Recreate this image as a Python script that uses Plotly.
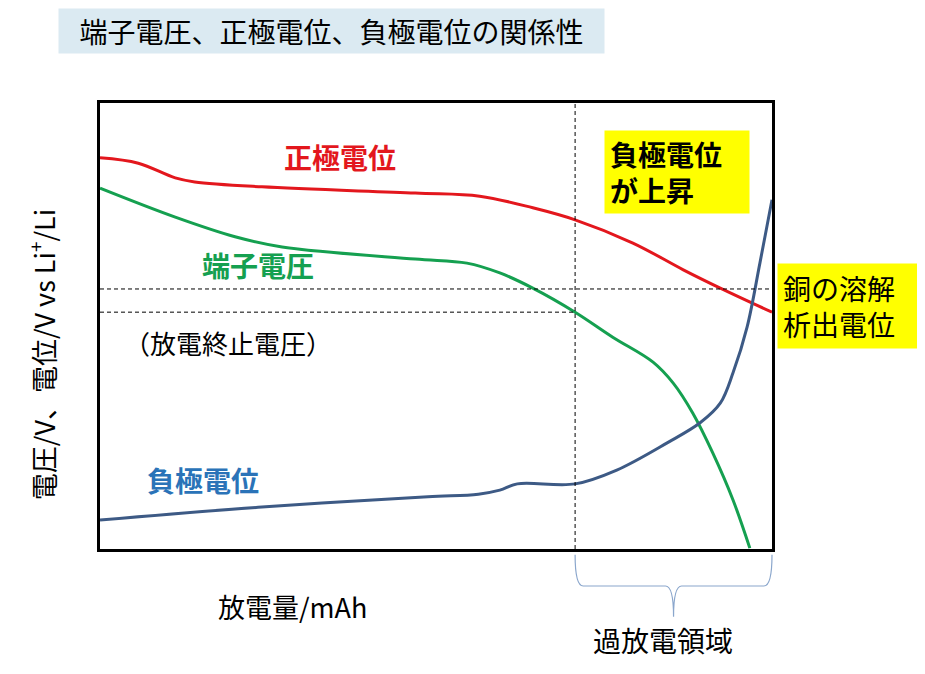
import plotly.graph_objects as go

# 放電量 (相対値 0-100) と電位 (相対値 0-100) : 図から読み取り
pos_x = [0, 5.7, 11.2, 14.1, 24.1, 46.9, 56.5, 64.4, 70.7, 79.3, 86.8, 92.3, 100]
pos_y = [87.7, 86.5, 83.2, 82.3, 81.2, 79.8, 79.1, 76.5, 73.8, 68.6, 62.6, 58.5, 53.1]

term_x = [0, 11.2, 20.1, 27.1, 46.9, 54.6, 59.5, 64.4, 70.7, 76.3, 82.3, 85.3, 88.2, 91.2, 94.2, 96.7]
term_y = [80.9, 74.4, 70.0, 67.7, 65.0, 64.1, 61.9, 58.5, 53.1, 47.5, 41.9, 37.2, 30.5, 21.5, 11.0, 0.2]

neg_x = [0, 24.1, 48.8, 56.3, 59.5, 62.1, 70.7, 76.9, 84.4, 89.3, 92.3, 94.2, 96.3, 98.2, 100]
neg_y = [6.5, 9.4, 11.7, 12.3, 13.2, 14.6, 14.6, 17.7, 23.8, 28.3, 32.7, 39.5, 49.8, 64.1, 78.3]

cutoff_v = 53.1      # 放電終止電圧
cu_v = 58.3          # 銅の溶解析出電位
overdis_x = 70.7     # 過放電の開始点
x_max = 100
y_max = 100

RED = '#e3171d'
GREEN = '#15a050'
BLUE = '#3d5a85'
LBLUE = '#2a73b8'
FONT = 'Noto Sans CJK JP'
DASH = dict(color='black', width=1, dash='4px,3px')

fig = go.Figure()
fig.add_trace(go.Scatter(x=pos_x, y=pos_y, mode='lines', line=dict(color=RED, width=3, shape='spline')))
fig.add_trace(go.Scatter(x=term_x, y=term_y, mode='lines', line=dict(color=GREEN, width=3, shape='spline')))
fig.add_trace(go.Scatter(x=neg_x, y=neg_y, mode='lines', line=dict(color=BLUE, width=3, shape='spline')))

# 破線
fig.add_trace(go.Scatter(x=[0, x_max], y=[cu_v, cu_v], mode='lines', line=DASH))
fig.add_trace(go.Scatter(x=[0, overdis_x], y=[cutoff_v, cutoff_v], mode='lines', line=DASH))
fig.add_trace(go.Scatter(x=[overdis_x, overdis_x], y=[0, y_max], mode='lines', line=DASH))

# 過放電領域の括弧
x0 = overdis_x / x_max
x1 = 1.0
xm = (x0 + x1) / 2
ya, yb, yc = -0.013, -0.083, -0.152
d = 0.012
brace = (f'M {x0},{ya} Q {x0},{yb} {x0 + d},{yb} L {xm - d},{yb} Q {xm},{yb} {xm},{yc} '
         f'Q {xm},{yb} {xm + d},{yb} L {x1 - d},{yb} Q {x1},{yb} {x1},{ya}')
fig.add_shape(type='path', path=brace, xref='paper', yref='paper', line=dict(color='#8aa6cc', width=1.2))

anns = [
    dict(text='<b>正極電位</b>', x=35.7, y=87.9, xref='x', yref='y', font=dict(color=RED, size=28)),
    dict(text='<b>端子電圧</b>', x=23.5, y=63.7, xref='x', yref='y', font=dict(color=GREEN, size=28)),
    dict(text='<b>負極電位</b>', x=15.3, y=15.5, xref='x', yref='y', font=dict(color=LBLUE, size=28)),
    dict(text='（放電終止電圧）', x=19.0, y=46.4, xref='x', yref='y', font=dict(color='black', size=26)),
    dict(text='<b>負極電位<br>が上昇</b>', x=0.859, y=0.845, xref='paper', yref='paper',
         font=dict(color='black', size=28), bgcolor='#ffff00', width=134, height=72, borderpad=5, align='left'),
    dict(text='銅の溶解<br>析出電位', x=1.114, y=0.545, xref='paper', yref='paper',
         font=dict(color='black', size=28), bgcolor='#ffff00', width=131, height=74, borderpad=5, align='left'),
    dict(text='端子電圧、正極電位、負極電位の関係性', x=0.344, y=1.161, xref='paper', yref='paper',
         font=dict(color='black', size=28), bgcolor='#dbeaf2', width=537, height=36, borderpad=4),
    dict(text='放電量/mAh', x=0.286, y=-0.128, xref='paper', yref='paper', font=dict(color='black', size=27)),
    dict(text='過放電領域', x=0.838, y=-0.204, xref='paper', yref='paper', font=dict(color='black', size=28)),
    dict(text='電圧/V、電位/V vs Li<sup>+</sup>/Li', x=-0.086, y=0.435, xref='paper', yref='paper',
         textangle=-90, font=dict(color='black', size=27)),
]
for a in anns:
    a['showarrow'] = False
    a['xanchor'] = 'center'
    a['yanchor'] = 'middle'
    fig.add_annotation(**a)

fig.update_xaxes(range=[0, x_max], showgrid=False, zeroline=False, showticklabels=False, ticks='',
                 showline=True, mirror=True, linecolor='black', linewidth=3)
fig.update_yaxes(range=[0, y_max], showgrid=False, zeroline=False, showticklabels=False, ticks='',
                 showline=True, mirror=True, linecolor='black', linewidth=3)
fig.update_layout(width=909, height=658, showlegend=False, plot_bgcolor='white', paper_bgcolor='white',
                  margin=dict(l=92, r=145, t=95, b=117), font=dict(family=FONT))
fig.write_html('out.html')
